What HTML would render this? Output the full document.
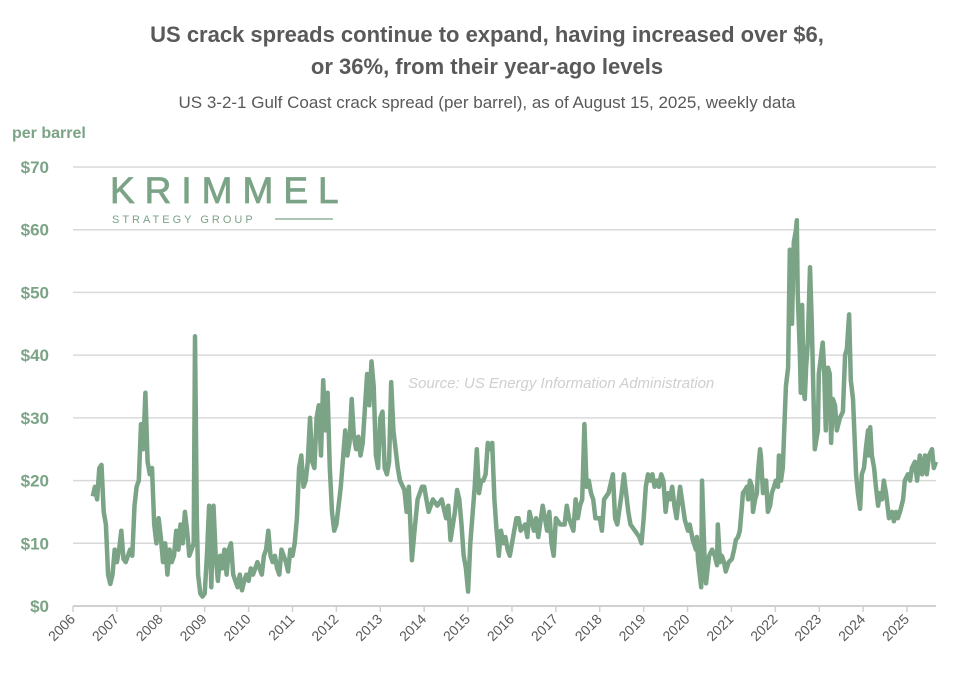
<!DOCTYPE html>
<html><head><meta charset="utf-8">
<style>
body{margin:0;background:#fff;}
svg{display:block;font-family:"Liberation Sans",sans-serif;}
</style></head>
<body>
<svg id="chart" width="975" height="675">
<text x="487" y="42" text-anchor="middle" font-size="22" font-weight="bold" fill="#595959">US crack spreads continue to expand, having increased over $6,</text>
<text x="487" y="74" text-anchor="middle" font-size="22" font-weight="bold" fill="#595959">or 36%, from their year-ago levels</text>
<text x="487" y="108" text-anchor="middle" font-size="17" fill="#595959">US 3-2-1 Gulf Coast crack spread (per barrel), as of August 15, 2025, weekly data</text>
<text x="12" y="138" font-size="16" font-weight="bold" fill="#7ba386">per barrel</text>
<g>
<text x="110" y="203" font-size="37" fill="#7ba386" letter-spacing="10" stroke="#7ba386" stroke-width="0.8">KRIMMEL</text>
<text x="112" y="223" font-size="11" fill="#7ba386" letter-spacing="3">STRATEGY GROUP</text>
<line x1="275" y1="219" x2="333" y2="219" stroke="#7ba386" stroke-width="1.2"/>
</g>
<g id="grid"></g>
<g id="yl"></g>
<g id="xl"></g>
<text x="408" y="388" font-size="15" font-style="italic" fill="#cfcfcf">Source: US Energy Information Administration</text>
<path id="line" fill="none" stroke="#7ba386" stroke-width="4.5" stroke-linejoin="round"/>
</svg>
<script>
const yTicks=[0,10,20,30,40,50,60,70];
const xYears=[2006,2007,2008,2009,2010,2011,2012,2013,2014,2015,2016,2017,2018,2019,2020,2021,2022,2023,2024,2025];
const dates=[2006.45,2006.5,2006.55,2006.6,2006.65,2006.7,2006.75,2006.8,2006.85,2006.9,2006.95,2007.0,2007.05,2007.1,2007.15,2007.2,2007.3,2007.35,2007.4,2007.45,2007.5,2007.55,2007.6,2007.65,2007.7,2007.75,2007.8,2007.85,2007.9,2007.95,2008.0,2008.05,2008.1,2008.15,2008.2,2008.25,2008.3,2008.35,2008.4,2008.45,2008.5,2008.55,2008.6,2008.65,2008.7,2008.75,2008.78,2008.82,2008.85,2008.9,2008.95,2009.0,2009.05,2009.1,2009.15,2009.2,2009.25,2009.3,2009.35,2009.4,2009.45,2009.5,2009.55,2009.6,2009.65,2009.7,2009.75,2009.8,2009.85,2009.9,2009.95,2010.0,2010.05,2010.1,2010.2,2010.3,2010.35,2010.4,2010.45,2010.5,2010.55,2010.6,2010.65,2010.7,2010.75,2010.8,2010.85,2010.9,2010.95,2011.0,2011.05,2011.1,2011.15,2011.2,2011.25,2011.3,2011.35,2011.4,2011.45,2011.5,2011.55,2011.6,2011.65,2011.7,2011.75,2011.8,2011.85,2011.9,2011.95,2012.0,2012.1,2012.2,2012.25,2012.3,2012.35,2012.4,2012.45,2012.5,2012.55,2012.6,2012.7,2012.75,2012.8,2012.85,2012.9,2012.95,2013.0,2013.05,2013.1,2013.15,2013.2,2013.25,2013.3,2013.4,2013.45,2013.55,2013.6,2013.65,2013.72,2013.78,2013.85,2013.95,2014.0,2014.1,2014.2,2014.3,2014.4,2014.5,2014.55,2014.6,2014.7,2014.75,2014.8,2014.85,2014.9,2014.95,2015.0,2015.05,2015.15,2015.2,2015.25,2015.3,2015.35,2015.4,2015.45,2015.5,2015.55,2015.6,2015.65,2015.7,2015.75,2015.8,2015.85,2015.9,2015.95,2016.0,2016.1,2016.15,2016.2,2016.3,2016.35,2016.4,2016.5,2016.55,2016.6,2016.7,2016.75,2016.8,2016.85,2016.9,2016.95,2017.0,2017.1,2017.2,2017.25,2017.3,2017.4,2017.45,2017.5,2017.55,2017.6,2017.65,2017.7,2017.75,2017.8,2017.85,2017.9,2018.0,2018.05,2018.1,2018.2,2018.3,2018.35,2018.4,2018.5,2018.55,2018.6,2018.65,2018.7,2018.8,2018.9,2018.95,2019.0,2019.05,2019.1,2019.15,2019.2,2019.25,2019.3,2019.35,2019.4,2019.45,2019.5,2019.55,2019.6,2019.65,2019.7,2019.75,2019.83,2019.94,2020.01,2020.05,2020.12,2020.19,2020.21,2020.24,2020.31,2020.33,2020.40,2020.42,2020.49,2020.56,2020.62,2020.67,2020.69,2020.74,2020.78,2020.83,2020.87,2020.94,2021.01,2021.06,2021.10,2021.15,2021.19,2021.24,2021.26,2021.31,2021.35,2021.38,2021.42,2021.47,2021.49,2021.54,2021.58,2021.60,2021.65,2021.67,2021.72,2021.74,2021.79,2021.83,2021.88,2021.92,2021.97,2022.01,2022.06,2022.08,2022.13,2022.17,2022.24,2022.29,2022.33,2022.38,2022.42,2022.47,2022.49,2022.51,2022.56,2022.58,2022.61,2022.65,2022.67,2022.70,2022.74,2022.79,2022.83,2022.88,2022.90,2022.97,2022.99,2023.08,2023.11,2023.15,2023.20,2023.24,2023.27,2023.31,2023.36,2023.40,2023.47,2023.54,2023.59,2023.63,2023.68,2023.72,2023.77,2023.84,2023.88,2023.93,2023.97,2024.02,2024.06,2024.11,2024.13,2024.16,2024.20,2024.25,2024.29,2024.34,2024.38,2024.43,2024.47,2024.52,2024.59,2024.66,2024.70,2024.75,2024.79,2024.84,2024.91,2024.95,2025.02,2025.07,2025.11,2025.18,2025.23,2025.29,2025.34,2025.41,2025.45,2025.50,2025.57,2025.61,2025.66];
const spreads=[17.5,19,17,22,22.5,15,13,5,3.5,5,9,7,9,12,7.5,7,9,8,16,19,20,29,25,34,23,21,22,13,10,14,11,7,10,5,9,7,8,12,9,13,10,15,12,8,9,10,43,14,5,2,1.5,2,8,16,3,16,8,4,8,6,9,5,9,10,5,4,3,5,2.5,4,5,4,6,5,7,5,8,9,12,8,7,8,6,5,9,8,7,5.5,9,8,10,14,22,24,19,20,23,30,23,22,30,32,24,36,28,34,22,15,12,13,19,28,24,26,33,27,25,27,24,26,37,32,39,35,24,22,30,31,22,21,23,35.7,28,22,20,18.5,15,19,7.3,12,17,19,19,15,17,16,17,14,16,10.5,15,18.5,17,13,8,6,2.3,10,19,25,18,20,20,21,26,25,26,17,12,8,12,10,11,9,8,10,14,14,12,13,11,15,12,14,11,16,14,12,15,10,8,14,13,13,16,14,12,17,14,16,17,29,19,20,18,17,14,14,12,17,18,21,14,13,18,21,18,15,13,12,11,10,14,19,21,20,21,19,20,19,21,20,15,18,17,19,16,14,19,13.7,12,13,10.5,9,11,7.3,3,20,5,3.6,8,9,8,6.5,13,7,8,7,5.5,7,7.5,9,10.5,11,12,16,18,18.5,19,17,20,19,15,17,18,21,25,24,18,20,20,15,16,18,19,20,19,24,20,22,35,38,56.8,45,58,60,61.5,50,40,34,48,34,33,38,42,54,45,30,25,28,37,42,38,28,38,37,26,33,32,28,30,31,40,41,46.5,36,33,21,18,15.5,21,22,25,28,24,28.5,24,22,19,16,18,17,20,18,14,15,13.5,15,14,15,17,20,21,20,22,23,20,24,21,24,21,24,25,22,23];

const X0=73,X1=936,Y0=606,Y70=167;
const xs=y=>X0+(y-2006)*(X1-X0)/19.66;
const ys=v=>Y0-(v/70)*(Y0-Y70);
const NS="http://www.w3.org/2000/svg";
const grid=document.getElementById('grid'),yl=document.getElementById('yl'),xl=document.getElementById('xl');
yTicks.forEach(t=>{
 const l=document.createElementNS(NS,'line');
 l.setAttribute('x1',X0);l.setAttribute('x2',X1);l.setAttribute('y1',ys(t));l.setAttribute('y2',ys(t));
 l.setAttribute('stroke',t===0?'#d0d0d0':'#d9d9d9');l.setAttribute('stroke-width',t===0?2:1.5);
 
 
 grid.appendChild(l);
 const tx=document.createElementNS(NS,'text');
 tx.setAttribute('x',49);tx.setAttribute('y',ys(t)+6);tx.setAttribute('text-anchor','end');
 tx.setAttribute('font-size','17');tx.setAttribute('font-weight','bold');tx.setAttribute('fill','#7ba386');
 tx.textContent='$'+t;
 
 
 yl.appendChild(tx);
});
xYears.forEach(yr=>{
 const x=xs(yr);
 const tk=document.createElementNS(NS,'line');
 tk.setAttribute('x1',x);tk.setAttribute('x2',x);tk.setAttribute('y1',Y0);tk.setAttribute('y2',Y0+6);
 tk.setAttribute('stroke','#d0d0d0');tk.setAttribute('stroke-width',1.5);
 
 
 grid.appendChild(tk);
 const tx=document.createElementNS(NS,'text');
 tx.setAttribute('x',x+3);tx.setAttribute('y',Y0+14);tx.setAttribute('text-anchor','end');
 tx.setAttribute('font-size','14');tx.setAttribute('fill','#595959');
 tx.setAttribute('transform','rotate(-45 '+(x+3)+' '+(Y0+14)+')');
 tx.textContent=yr;
 
 
 xl.appendChild(tx);
});
let d='';
dates.forEach((t,i)=>{d+=(i?'L':'M')+xs(t).toFixed(1)+' '+ys(spreads[i]).toFixed(1);});
document.getElementById('line').setAttribute('d',d);
</script>
</body></html>
